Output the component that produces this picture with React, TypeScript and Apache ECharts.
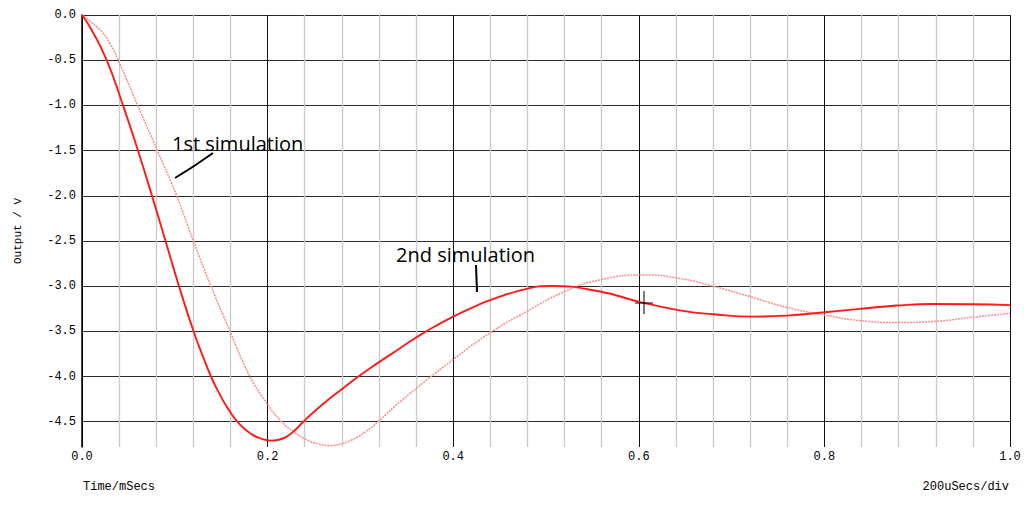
import React, { useEffect, useRef } from "react";
import * as echarts from "echarts";

// 2nd simulation (solid red)
const T_SOLID = [0, 0.0104, 0.0266, 0.0442, 0.0603, 0.0754, 0.09, 0.1045, 0.1202, 0.13, 0.139, 0.148, 0.157, 0.17, 0.183, 0.193, 0.203, 0.212, 0.2206, 0.23, 0.2385, 0.25, 0.2637, 0.28, 0.2978, 0.321, 0.3427, 0.355, 0.367, 0.38, 0.3995, 0.42, 0.4397, 0.479, 0.506, 0.558, 0.5995, 0.644, 0.68, 0.7235, 0.759, 0.8, 0.838, 0.878, 0.917, 0.96, 1.0];
const V_SOLID = [0, -0.166, -0.5, -1.0, -1.5, -2.0, -2.5, -3.0, -3.5, -3.77, -4.0, -4.19, -4.35, -4.53, -4.64, -4.687, -4.71, -4.7, -4.665, -4.59, -4.5, -4.39, -4.27, -4.14, -4.0, -3.835, -3.687, -3.602, -3.525, -3.447, -3.34, -3.24, -3.155, -3.03, -2.998, -3.06, -3.171, -3.268, -3.311, -3.337, -3.326, -3.289, -3.252, -3.215, -3.197, -3.2, -3.21];

// 1st simulation (dotted pink)
const T_DOT = [0, 0.0194, 0.03, 0.039, 0.06, 0.0812, 0.102, 0.12, 0.139, 0.1595, 0.18, 0.198, 0.215, 0.228, 0.242, 0.255, 0.267, 0.28, 0.291, 0.305, 0.319, 0.3427, 0.3995, 0.443, 0.479, 0.52, 0.558, 0.605, 0.644, 0.679, 0.72, 0.759, 0.8, 0.838, 0.881, 0.917, 0.96, 1.0];
const V_DOT = [0, -0.166, -0.313, -0.5, -1.0, -1.5, -2.0, -2.5, -3.0, -3.5, -3.98, -4.28, -4.5, -4.61, -4.7, -4.745, -4.765, -4.745, -4.7, -4.616, -4.5, -4.28, -3.816, -3.496, -3.282, -3.06, -2.931, -2.876, -2.915, -2.998, -3.116, -3.234, -3.319, -3.381, -3.403, -3.392, -3.344, -3.3];

const Y_TICKS = [0, -0.5, -1.0, -1.5, -2.0, -2.5, -3.0, -3.5, -4.0, -4.5];
const X_TICKS = [0, 0.2, 0.4, 0.6, 0.8, 1.0];

const MONO = "'Liberation Mono', 'DejaVu Sans Mono', monospace";
const SANS = "'Open Sans', 'Noto Sans', sans-serif";

export default function App() {
  const ref = useRef<HTMLDivElement>(null);
  useEffect(() => {
    document.body.style.margin = "0";
    if (!ref.current) return;
    const chart = echarts.init(ref.current, null, { renderer: "svg" });
    const solid = T_SOLID.map((t, i) => [t, V_SOLID[i]]);
    const dot = T_DOT.map((t, i) => [t, V_DOT[i]]);
    chart.setOption({
      animation: false,
      backgroundColor: "#ffffff",
      grid: { left: 82, right: 14, top: 15, bottom: 63, containLabel: false },
      xAxis: {
        type: "value",
        min: X_TICKS[0],
        max: X_TICKS[X_TICKS.length - 1],
        interval: 0.2,
        axisLine: { show: false, onZero: false },
        axisTick: { show: false },
        axisLabel: {
          margin: 4,
          color: "#000",
          fontFamily: MONO,
          fontSize: 12,
          formatter: (v: number) => v.toFixed(1),
        },
        splitLine: { show: true, lineStyle: { color: "#111", width: 1 } },
        minorTick: { show: false, splitNumber: 5 },
        minorSplitLine: { show: true, lineStyle: { color: "#c8c8c8", width: 1.3 } },
      },
      yAxis: {
        type: "value",
        min: -4.78,
        max: 0,
        axisLine: { show: true, onZero: false, lineStyle: { color: "#000", width: 1.5 } },
        axisTick: { show: false, customValues: Y_TICKS },
        axisLabel: {
          margin: 6,
          color: "#000",
          fontFamily: MONO,
          fontSize: 12,
          customValues: Y_TICKS,
          formatter: (v: number) => v.toFixed(1),
        },
        splitLine: { show: true, lineStyle: { color: "#2a2a2a", width: 1 } },
      },
      series: [
        {
          type: "line",
          name: "1st simulation",
          data: dot,
          smooth: 0.5,
          showSymbol: false,
          lineStyle: { color: "#ff8a8a", width: 1.5, type: [2, 1] },
          z: 3,
        },
        {
          type: "line",
          name: "2nd simulation",
          data: solid,
          smooth: 0.5,
          showSymbol: false,
          lineStyle: { color: "#ff1a1a", width: 1.9 },
          z: 4,
        },
      ],
      graphic: [
        {
          type: "text",
          x: 18,
          y: 231,
          rotation: Math.PI / 2,
          style: { text: "Output / V", font: `11px ${MONO}`, fill: "#000", align: "center", verticalAlign: "middle" },
        },
        {
          type: "text",
          x: 83,
          y: 487,
          style: { text: "Time/mSecs", font: `12px ${MONO}`, fill: "#000", align: "left", verticalAlign: "middle" },
        },
        {
          type: "text",
          x: 1009,
          y: 487,
          style: { text: "200uSecs/div", font: `12px ${MONO}`, fill: "#000", align: "right", verticalAlign: "middle" },
        },
        {
          type: "text",
          x: 172,
          y: 143,
          z: 10,
          style: { text: "1st simulation", font: `20px ${SANS}`, fill: "#000", align: "left", verticalAlign: "middle" },
        },
        {
          type: "text",
          x: 396,
          y: 254,
          z: 10,
          style: { text: "2nd simulation", font: `20px ${SANS}`, fill: "#000", align: "left", verticalAlign: "middle" },
        },
        {
          type: "bezierCurve",
          z: 10,
          shape: { x1: 175, y1: 178, x2: 213, y2: 153, cpx1: 195, cpy1: 166 },
          style: { stroke: "#000", lineWidth: 2, fill: "none" },
        },
        {
          type: "line",
          z: 10,
          shape: { x1: 476, y1: 265, x2: 477, y2: 292 },
          style: { stroke: "#000", lineWidth: 2 },
        },
        {
          type: "line",
          z: 10,
          shape: { x1: 635, y1: 303, x2: 653, y2: 303 },
          style: { stroke: "#000", lineWidth: 1 },
        },
        {
          type: "line",
          z: 10,
          shape: { x1: 644, y1: 291, x2: 644, y2: 314 },
          style: { stroke: "#000", lineWidth: 1 },
        },
      ],
    });
    return () => chart.dispose();
  }, []);
  return <div ref={ref} style={{ width: 1024, height: 510, background: "#fff" }} />;
}
